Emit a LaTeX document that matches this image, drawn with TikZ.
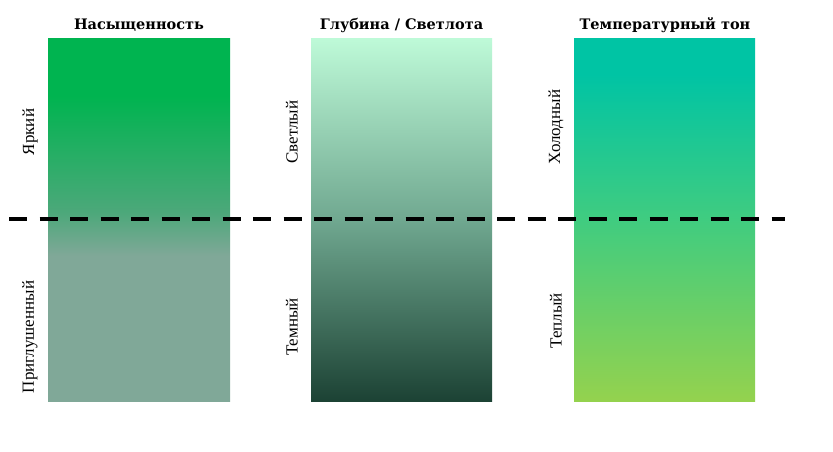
\documentclass[tikz,border=0pt]{standalone}
\usepackage{fontspec}
\setmainfont{Liberation Serif}
\newfontfamily\titlefont{DejaVu Serif}
\definecolor{satTop}{HTML}{00B450}
\definecolor{satMid}{HTML}{4CA87A}
\definecolor{satBot}{HTML}{80A898}
\definecolor{depTop}{HTML}{BEFAD8}
\definecolor{depMid}{HTML}{70A890}
\definecolor{depBot}{HTML}{1C4234}
\definecolor{tmpTop}{HTML}{00C4A4}
\definecolor{tmpMid}{HTML}{40CC80}
\definecolor{tmpBot}{HTML}{94D24E}
\pgfdeclareverticalshading{satsh}{100bp}{color(0bp)=(satBot); color(45bp)=(satBot); color(51bp)=(satMid); color(67bp)=(satTop); color(100bp)=(satTop)}
\pgfdeclareverticalshading{depsh}{100bp}{color(0bp)=(depBot); color(25bp)=(depBot); color(50bp)=(depMid); color(75bp)=(depTop); color(100bp)=(depTop)}
\pgfdeclareverticalshading{tmpsh}{100bp}{color(0bp)=(tmpBot); color(25bp)=(tmpBot); color(50bp)=(tmpMid); color(70bp)=(tmpTop); color(100bp)=(tmpTop)}
\tikzset{
  ttl/.style={font=\titlefont\bfseries\fontsize{14.5}{16}\selectfont, anchor=center, inner sep=0pt},
  lbl/.style={font=\fontsize{17}{19}\selectfont, rotate=90, anchor=center, inner sep=0pt},
  divider/.style={line width=4pt, dash pattern=on 18pt off 12.5pt, black}
}
\begin{document}
\begin{tikzpicture}[x=1pt,y=-1pt]
\useasboundingbox (0,0) rectangle (833,451);
\fill[white] (0,0) rectangle (833,451);
\shade[shading=satsh] (48,38) rectangle (230,401);
\shade[shading=depsh] (311,38) rectangle (492,401);
\shade[shading=tmpsh] (574,38) rectangle (755,401);
\node[ttl] (t1) at (139,25) {Насыщенность};
\node[ttl] (t2) at (401.5,25) {Глубина / Светлота};
\node[ttl] (t3) at (665,25) {Температурный тон};
\node[lbl] (l1) at (30,132) {Яркий};
\node[lbl] (l2) at (30,337) {Приглушенный};
\node[lbl] (l3) at (292,132) {Светлый};
\node[lbl] (l4) at (292,327) {Темный};
\node[lbl] (l5) at (556,127) {Холодный};
\node[lbl] (l6) at (556,321) {Теплый};
\coordinate (dl) at (9,219);
\coordinate (dr) at (785,219);
\draw[divider] (dl) -- (dr);
\end{tikzpicture}
\end{document}
